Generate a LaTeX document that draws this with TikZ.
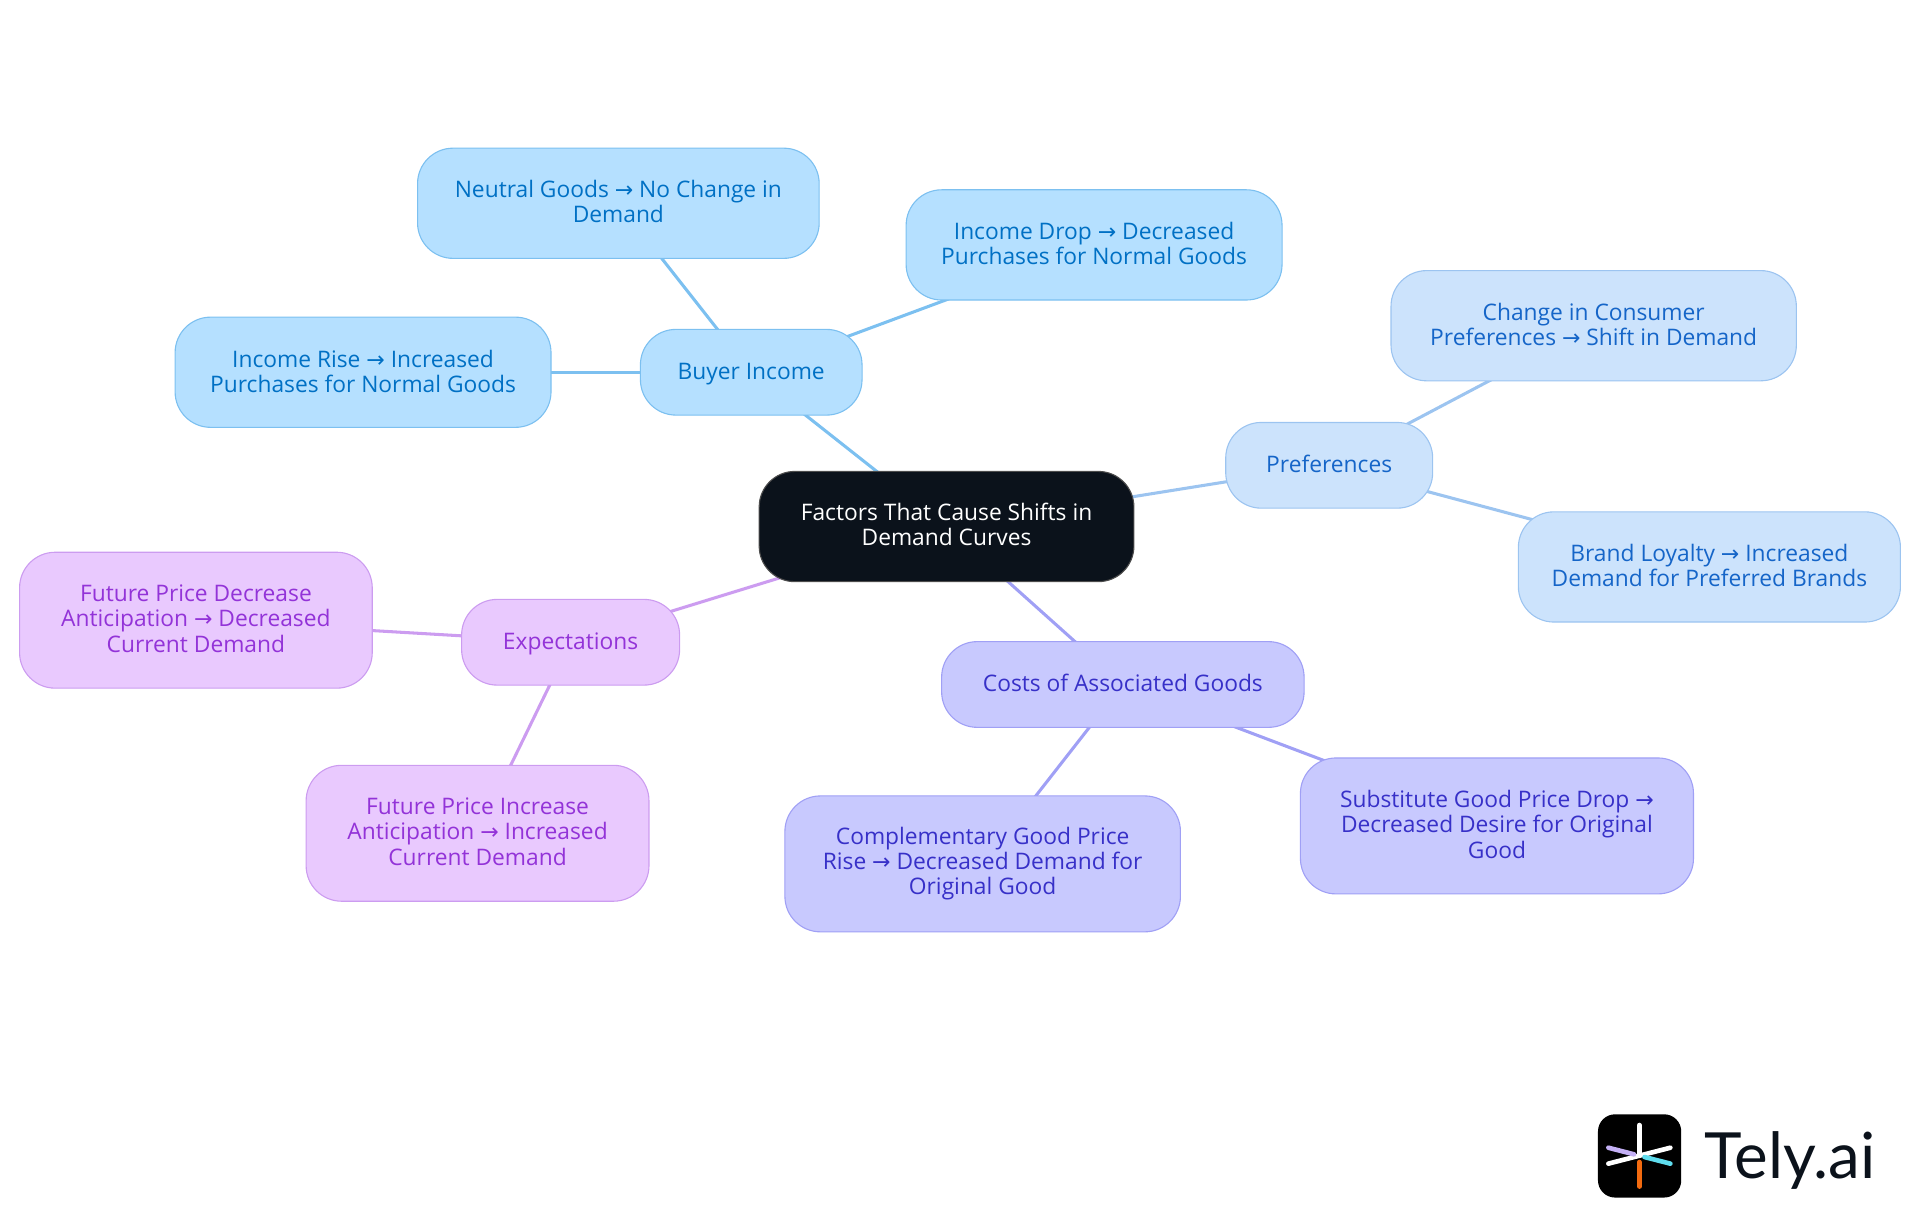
\documentclass[tikz,border=0pt]{standalone}
\usepackage{fontspec}
\setmainfont{Open Sans}
\newfontfamily\arrowfont{DejaVu Sans}
\newfontfamily\logofont{Lato}
\newcommand{\ra}{{\arrowfont\fontsize{18}{20.5}\selectfont →}}
\usetikzlibrary{backgrounds}
\definecolor{bfill}{HTML}{B5E0FF}\definecolor{bline}{HTML}{7CC0F0}\definecolor{btext}{HTML}{0070C4}
\definecolor{lfill}{HTML}{CCE3FC}\definecolor{lline}{HTML}{9CC4F0}\definecolor{ltext}{HTML}{1565C8}
\definecolor{ifill}{HTML}{C8C9FE}\definecolor{iline}{HTML}{A0A0F5}\definecolor{itext}{HTML}{3730C8}
\definecolor{pfill}{HTML}{E9C9FE}\definecolor{pline}{HTML}{CC9CF0}\definecolor{ptext}{HTML}{9333D8}
\definecolor{core}{HTML}{0B121B}
\definecolor{raypurple}{HTML}{C4B0F5}\definecolor{raycyan}{HTML}{5FDDEE}\definecolor{rayorange}{HTML}{F26A0F}
\tikzset{
 x=1pt,y=-1pt,
 box/.style={rounded corners=#1,line width=0.9pt,align=center,inner sep=0pt,
   font=\fontsize{18.6}{20.5}\selectfont},
 box/.default=29pt,
 single/.style={text height=14pt,text depth=2.8pt},
 bluebox/.style={box,fill=bfill,draw=bline,text=btext},
 lightbox/.style={box,fill=lfill,draw=lline,text=ltext},
 indigobox/.style={box,fill=ifill,draw=iline,text=itext},
 purplebox/.style={box,fill=pfill,draw=pline,text=ptext},
 corebox/.style={box,fill=core,draw=black!70!white,text=white},
 bedge/.style={draw=bline,line width=2.5pt},
 ledge/.style={draw=lline,line width=2.5pt},
 iedge/.style={draw=iline,line width=2.5pt},
 pedge/.style={draw=pline,line width=2.5pt},
 ray/.style={line width=3.8pt,line cap=round},
}
\begin{document}
\begin{tikzpicture}
\useasboundingbox (0,0) rectangle (1568,992.25);
\node[corebox,minimum width=306pt,minimum height=90pt] (c) at (773,430) {Factors That Cause Shifts in\\Demand Curves\vspace*{4pt}};
\node[bluebox,single,minimum width=181pt,minimum height=70pt] (buyer) at (613.5,304) {Buyer Income};
\node[bluebox,minimum width=328pt,minimum height=90pt] (neutral) at (505,166) {Neutral Goods \ra{} No Change in\\Demand\vspace*{2.5pt}};
\node[bluebox,minimum width=307pt,minimum height=90pt] (drop) at (893.5,200) {Income Drop \ra{} Decreased\\Purchases for Normal Goods\vspace*{2.5pt}};
\node[bluebox,minimum width=307pt,minimum height=90pt] (rise) at (296.5,304) {Income Rise \ra{} Increased\\Purchases for Normal Goods\vspace*{2pt}};
\node[lightbox,single,minimum width=169pt,minimum height=70pt] (pref) at (1085.5,380) {Preferences};
\node[lightbox,minimum width=331pt,minimum height=90pt] (change) at (1301.5,266) {Change in Consumer\\Preferences \ra{} Shift in Demand\vspace*{2.5pt}};
\node[lightbox,minimum width=312pt,minimum height=90pt] (brand) at (1396,463) {Brand Loyalty \ra{} Increased\\Demand for Preferred Brands\vspace*{2pt}};
\node[purplebox,single,minimum width=178pt,minimum height=70pt] (expect) at (466,524.5) {Expectations};
\node[purplebox,minimum width=288pt,minimum height=111pt] (fdec) at (160,506.5) {Future Price Decrease\\Anticipation \ra{} Decreased\\Current Demand\vspace*{2.5pt}};
\node[purplebox,minimum width=280pt,minimum height=111pt] (finc) at (390,680.5) {Future Price Increase\\Anticipation \ra{} Increased\\Current Demand\vspace*{2.5pt}};
\node[indigobox,single,minimum width=296pt,minimum height=70pt] (costs) at (917,559) {Costs of Associated Goods};
\node[indigobox,minimum width=323pt,minimum height=111pt] (comp) at (802.5,705.5) {Complementary Good Price\\Rise \ra{} Decreased Demand for\\Original Good};
\node[indigobox,minimum width=321pt,minimum height=111pt] (subst) at (1222.5,674.5) {Substitute Good Price Drop \ra{}\\Decreased Desire for Original\\Good\vspace*{2.5pt}};
\begin{scope}[on background layer]
\draw[bedge] (c.center) -- (buyer.center);
\draw[bedge] (buyer.center) -- (neutral.center);
\draw[bedge] (buyer.center) -- (drop.center);
\draw[bedge] (buyer.center) -- (rise.center);
\draw[ledge] (c.center) -- (pref.center);
\draw[ledge] (pref.center) -- (change.center);
\draw[ledge] (pref.center) -- (brand.center);
\draw[pedge] (c.center) -- (expect.center);
\draw[pedge] (expect.center) -- (fdec.center);
\draw[pedge] (expect.center) -- (finc.center);
\draw[iedge] (c.center) -- (costs.center);
\draw[iedge] (costs.center) -- (comp.center);
\draw[iedge] (costs.center) -- (subst.center);
\end{scope}
% logo
\node[fill=black,rounded corners=14pt,minimum width=68pt,minimum height=68pt,inner sep=0pt] (logo) at (1339,944) {};
\draw[ray,white] (1338.8,943.8) -- ++(0,-25);
\draw[ray,white] (1338.8,943.8) -- ++(25.3,-6.5);
\draw[ray,white] (1338.8,943.8) -- ++(-25.3,6.5);
\draw[ray,raypurple] (1334.5,942.7) -- (1313.5,937.3);
\draw[ray,raycyan] (1343,944.9) -- (1364.1,950.3);
\draw[ray,rayorange] (1338.8,949) -- ++(0,20);
\node[inner sep=0pt,anchor=base west,text=core,font=\logofont\fontsize{52}{52}\selectfont] (brandname) at (1392,962.5) {Tely.ai};
\end{tikzpicture}
\end{document}
